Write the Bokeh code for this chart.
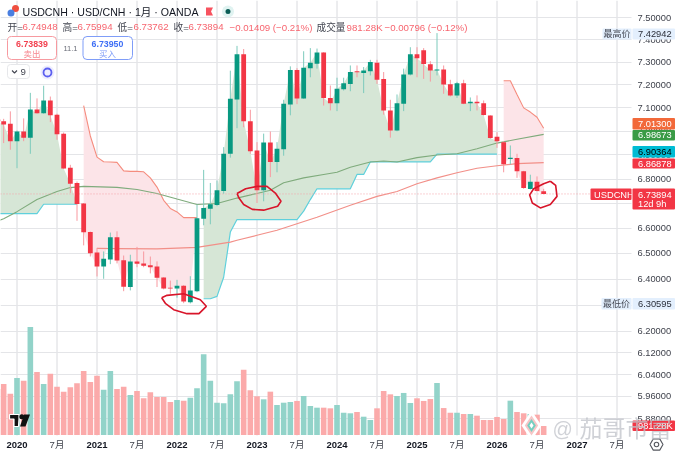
import math
from bokeh.plotting import figure
from bokeh.models import FixedTicker, LinearAxis, Range1d, LinearScale, PrintfTickFormatter, ColumnDataSource
from bokeh.core.properties import value
from bokeh.embed import file_html
from bokeh.resources import INLINE

# month index: 0 = 2020-01, first candle 2019-10 (just off the left edge)
first_month = -3
open_ = [7.050,7.043,7.032,6.958,6.999,6.973,7.093,7.077,7.132,7.071,6.990,6.847,6.784,6.700,6.585,
         6.504,6.449,6.476,6.564,6.473,6.369,6.468,6.461,6.454,6.449,6.406,6.366,
         6.363,6.374,6.311,6.353,6.638,6.679,6.694,6.751,6.905,7.136,7.335,7.043,
         6.919,6.754,6.953,6.871,6.924,7.115,7.265,7.141,7.273,7.293,7.342,7.143,
         7.120,7.181,7.204,7.259,7.252,7.259,7.297,7.225,7.089,7.003,7.118,7.245,
         7.335,7.353,7.290,7.263,7.267,7.203,7.154,7.207,7.120,7.126,7.120,7.067,
         6.977,6.954,6.883,6.887,6.832,6.759,6.789,6.74948]
high_ = [7.080,7.053,7.085,7.003,7.055,7.165,7.141,7.196,7.149,7.075,6.995,6.859,6.790,6.702,6.587,
         6.522,6.508,6.583,6.588,6.492,6.495,6.526,6.508,6.488,6.469,6.407,6.394,
         6.397,6.376,6.411,6.696,6.838,6.784,6.794,6.933,7.262,7.372,7.358,7.092,
         6.954,6.990,6.999,6.954,7.135,7.281,7.273,7.348,7.362,7.360,7.344,7.197,
         7.231,7.231,7.285,7.285,7.278,7.310,7.310,7.256,7.135,7.158,7.271,7.366,
         7.366,7.362,7.304,7.42942,7.285,7.222,7.213,7.222,7.145,7.154,7.132,7.068,
         6.996,6.958,6.940,6.905,6.834,6.818,6.811,6.75994]
low_ = [7.000,6.950,6.922,6.845,6.958,6.905,7.075,7.075,7.039,6.964,6.842,6.743,6.630,6.532,6.488,
        6.410,6.401,6.458,6.461,6.353,6.356,6.446,6.446,6.422,6.369,6.360,6.343,
        6.328,6.307,6.30595,6.349,6.612,6.616,6.689,6.740,6.889,7.013,7.017,6.905,
        6.702,6.709,6.808,6.828,6.897,7.068,7.116,7.139,7.233,7.271,7.110,7.089,
        7.086,7.175,7.172,7.233,7.164,7.241,7.204,7.071,6.973,7.000,7.086,7.241,
        7.233,7.226,7.214,7.241,7.161,7.149,7.143,7.116,7.086,7.089,7.067,6.968,
        6.930,6.828,6.861,6.805,6.760,6.757,6.749,6.73762]
close_ = [7.043,7.029,6.958,6.999,6.973,7.093,7.077,7.132,7.068,6.987,6.844,6.781,6.698,6.584,6.501,
          6.449,6.479,6.564,6.472,6.370,6.468,6.460,6.452,6.446,6.405,6.363,6.363,
          6.374,6.313,6.356,6.640,6.682,6.697,6.754,6.905,7.139,7.335,7.043,6.916,
          6.754,6.953,6.871,6.926,7.118,7.265,7.141,7.275,7.297,7.342,7.143,7.120,
          7.183,7.207,7.256,7.255,7.263,7.300,7.222,7.089,7.003,7.120,7.245,7.335,
          7.317,7.291,7.263,7.267,7.201,7.154,7.207,7.118,7.126,7.120,7.069,6.971,
          6.958,6.861,6.889,6.832,6.763,6.789,6.751,6.73894]
volume_m = [5.00,5.54,4.49,6.20,5.90,11.74,6.85,5.54,6.66,5.25,4.71,5.18,5.62,6.96,5.76,
            6.45,4.92,6.96,5.00,5.25,4.35,4.78,3.99,4.64,4.13,4.13,3.59,
            3.80,3.73,4.05,5.08,8.77,5.90,3.51,3.45,4.42,5.84,7.10,4.86,
            4.21,3.88,4.71,3.26,3.51,3.59,3.70,4.24,3.15,2.97,2.97,2.90,
            3.26,2.42,2.36,2.50,1.99,1.63,2.90,4.78,4.42,4.24,4.57,3.48,
            3.99,3.70,3.91,5.65,2.93,2.42,2.42,2.28,2.28,2.10,1.63,1.63,
            1.96,1.74,3.73,2.50,2.36,2.28,2.21,0.981]
# supertrend-like stop lines, by start month
upper1_start = 10
upper1 = [7.110,6.980,6.891,6.872,6.871,6.869,6.834,6.832,6.832,6.830,6.805,6.767,6.713,6.680,6.666,6.643,6.643,6.643]
upper2_start = 73
upper2 = [7.218,7.218,7.158,7.100,7.082,7.060,7.013]
lower1_start = -3
lower1 = [6.659,6.659,6.659,6.659,6.659,6.659,6.659,6.697,6.697,6.697,6.697,6.697,6.697]
lower2_start = 28
lower2 = [6.324,6.324,6.333,6.407,6.585,6.635,6.635,6.635,6.635,6.635,6.635,6.635,6.635,6.635,6.635,
          6.669,6.716,6.760,6.760,6.760,6.760,6.760,6.760,6.819,6.819,6.871,6.871,6.871,6.871,6.871,
          6.871,6.871,6.871,6.871,6.871,6.904,6.904,6.904,6.904,6.904,6.904,6.904,6.904,6.904,6.904]
ma_green_x = [-3,-2,0,3,6,8,10,15,18,21,24,27,30,33,36,38,40,43,46,48,50,53,55,57,60,63,66,69,72,75,79]
ma_green = [6.628,6.638,6.667,6.716,6.749,6.765,6.770,6.766,6.757,6.741,6.718,6.696,6.700,6.722,6.741,6.754,6.785,6.805,6.819,6.828,6.849,6.871,6.875,6.871,6.889,6.900,6.905,6.926,6.950,6.966,6.987]
ma_red_x = [12,15,21,27,32,33,36,39,45,50,54,57,60,63,66,69,72,75,79]
ma_red = [6.520,6.519,6.518,6.524,6.545,6.552,6.572,6.592,6.644,6.693,6.729,6.749,6.781,6.805,6.826,6.845,6.855,6.864,6.868]
# hand-drawn red circles
mark1_x = [21.7,22.5,25.0,27.5,28.4,27.3,25.5,23.5,22.3,21.7]
mark1_y = [6.328,6.337,6.343,6.320,6.295,6.267,6.267,6.282,6.305,6.328]
mark2_x = [33.0,34.3,36.0,37.5,38.8,39.6,39.1,37.0,35.3,34.0,33.3,33.0]
mark2_y = [6.741,6.760,6.770,6.770,6.741,6.709,6.689,6.673,6.676,6.696,6.722,6.741]
mark3_x = [80.0,80.8,81.0,80.0,78.5,77.3,76.9,77.5,79.0,80.0]
mark3_y = [6.791,6.774,6.729,6.696,6.682,6.702,6.735,6.760,6.781,6.791]
year_ticks = [0,12,24,36,48,60,72,84]
year_labels = ["2020","2021","2022","2023","2024","2025","2026","2027"]
month_ticks = [6,18,30,42,54,66,78,90]
price_ticks = [7.5,7.4,7.3,7.2,7.1,7.0,6.9,6.8,6.7,6.6,6.5,6.4,6.3,6.2,6.12,6.04,5.96,5.88]

W, H = 680, 454
def X(px): return (px-16.5)/6.6667
def Y(py): return 7.5*math.exp(-(py-17)/1649.0)
FONT = "'Liberation Sans', 'Noto Sans CJK SC'"

p = figure(width=W, height=H, output_backend="svg", toolbar_location=None,
           x_range=Range1d(X(0), X(W)), y_range=Range1d(Y(H), Y(0)), y_axis_type="log",
           y_axis_location="right", min_border=0, min_border_left=0, min_border_right=0,
           min_border_top=0, min_border_bottom=0, background_fill_color="white", outline_line_color=None)
p.styles = {"position": "fixed", "left": "0px", "top": "0px"}
p.extra_y_ranges = {"vol": Range1d(-19.5/9.2, 434.5/9.2)}
p.extra_y_scales = {"vol": LinearScale()}

# axes
ya = p.yaxis[0]
ya.ticker = FixedTicker(ticks=price_ticks)
ya.formatter = PrintfTickFormatter(format="%.5f")
ya.fixed_location = X(631)
ya.axis_line_color = None
ya.major_tick_line_color = None
ya.minor_tick_line_color = None
ya.major_tick_out = 0
ya.major_tick_in = 0
ya.major_label_standoff = 6
ya.major_label_text_font = FONT
ya.major_label_text_font_size = "9.3px"
ya.major_label_text_color = "#3f424c"

xa = p.xaxis[0]
xa.ticker = FixedTicker(ticks=year_ticks)
xa.major_label_overrides = dict(zip(year_ticks, year_labels))
xa.fixed_location = Y(435)
xa.axis_line_color = None
xa.major_tick_line_color = None
xa.minor_tick_line_color = None
xa.major_tick_out = 0
xa.major_tick_in = 0
xa.major_label_standoff = 6
xa.major_label_text_font = FONT
xa.major_label_text_font_style = "bold"
xa.major_label_text_font_size = "9.5px"
xa.major_label_text_color = "#131722"

xb = LinearAxis(ticker=FixedTicker(ticks=month_ticks), fixed_location=Y(435),
                major_label_overrides={m: "7月" for m in month_ticks},
                axis_line_color=None, major_tick_line_color=None, minor_tick_line_color=None,
                major_tick_out=0, major_tick_in=0,
                major_label_standoff=3, major_label_text_font=FONT, major_label_text_font_size="9.5px",
                major_label_text_color="#3f424c")
p.add_layout(xb, "below")

# grid: vertical lines stop at the time scale, horizontal ones at the price scale
xg = p.xgrid[0]
xg.grid_line_color = None
yg = p.ygrid[0]
yg.ticker = FixedTicker(ticks=price_ticks)
yg.grid_line_color = "#e4e5e8"
yg.grid_line_width = 1
yg.cross_bounds = (X(0), X(631))
vticks = sorted(year_ticks + month_ticks)
p.segment(x0=vticks, x1=vticks, y0=[Y(435)]*len(vticks), y1=[Y(0)]*len(vticks),
          line_color="#d9dade", line_width=1, level="underlay")

months = list(range(first_month, first_month+len(close_)))
def idx(m): return m-first_month

# areas
p.varea(x=list(range(lower1_start, lower1_start+len(lower1))), y1=lower1,
        y2=close_[idx(lower1_start):idx(lower1_start)+len(lower1)], fill_color="#d6e6d6", fill_alpha=1)
p.varea(x=list(range(lower2_start, lower2_start+len(lower2))), y1=lower2,
        y2=close_[idx(lower2_start):idx(lower2_start)+len(lower2)], fill_color="#d6e6d6", fill_alpha=1)
p.varea(x=list(range(upper1_start, upper1_start+len(upper1))), y1=upper1,
        y2=close_[idx(upper1_start):idx(upper1_start)+len(upper1)], fill_color="#fce4e8", fill_alpha=1)
p.varea(x=list(range(upper2_start, upper2_start+len(upper2))), y1=upper2,
        y2=close_[idx(upper2_start):idx(upper2_start)+len(upper2)], fill_color="#fce4e8", fill_alpha=1)

# volume
vol_col = ["#92d3c9" if c >= o else "#fbaaaa" for o, c in zip(open_, close_)]
p.vbar(x=months, top=volume_m, bottom=0, width=0.84, fill_color=vol_col, line_color=None, y_range_name="vol")

# lines
p.line(list(range(upper1_start, upper1_start+len(upper1))), upper1, line_color="#f58c7e", line_width=1.1)
p.line(list(range(upper2_start, upper2_start+len(upper2))), upper2, line_color="#f58c7e", line_width=1.1)
p.line(list(range(lower1_start, lower1_start+len(lower1))), lower1, line_color="#5fd0dc", line_width=1.2)
p.line(list(range(lower2_start, lower2_start+len(lower2))), lower2, line_color="#5fd0dc", line_width=1.2)
p.line(ma_green_x, ma_green, line_color="#7fab7c", line_width=1.1)
p.line(ma_red_x, ma_red, line_color="#f28f88", line_width=1.1)

# last price line
p.segment(x0=[X(0)], x1=[X(631)], y0=[close_[-1]], y1=[close_[-1]], line_color="#f5a3a8", line_width=1, line_dash="1 2")

# candles
up = [c >= o for o, c in zip(open_, close_)]
src = ColumnDataSource(dict(
    x=months, high=high_, low=low_,
    top=[max(o, c) for o, c in zip(open_, close_)], bottom=[min(o, c) for o, c in zip(open_, close_)],
    body=["#089981" if u else "#f23645" for u in up],
    wick=["#7ccabc" if u else "#f8989f" for u in up]))
p.segment(x0="x", x1="x", y0="high", y1="low", line_color="wick", line_width=1, source=src)
p.vbar(x="x", top="top", bottom="bottom", width=0.72, fill_color="body", line_color=None, source=src)

# hand-drawn circles
for mx, my in ((mark1_x, mark1_y), (mark2_x, mark2_y), (mark3_x, mark3_y)):
    p.line(mx, my, line_color="#d8152a", line_width=1.6)

# ---------- chrome helpers ----------
def T(px, py, s, color="#131722", size="9.7px", align="left", style="normal", alpha=1.0):
    p.text(x=[X(px)], y=[Y(py)], text=[s], text_color=color, text_font_size=size, text_align=align,
           text_baseline="middle", text_font=value(FONT), text_font_style=style, text_alpha=alpha, level="overlay")
def BOX(x0, x1, y0, y1, fill, line=None, r=0, lw=1):
    p.quad(left=[X(x0)], right=[X(x1)], top=[Y(y0)], bottom=[Y(y1)], fill_color=fill, line_color=line,
           line_width=lw, border_radius=r, level="overlay")
def DOT(px, py, size, fill, line=None, marker="circle", lw=1):
    p.scatter(x=[X(px)], y=[Y(py)], size=size, marker=marker, fill_color=fill, line_color=line, line_width=lw, level="overlay")

# header
DOT(15, 8, 7, "#ef4f3f"); DOT(10.5, 12.5, 7, "#4a7fe0")
T(22, 11, "USDCNH · USD/CNH · 1月 · OANDA", size="10.6px")
p.patch(x=[X(205.5), X(212.5), X(210.5), X(212.5), X(205.5)], y=[Y(7), Y(7), Y(11), Y(15), Y(15)], fill_color="#f7525f", line_color=None, level="overlay")
DOT(227.5, 11, 12, "#e0f3f1"); DOT(227.5, 11, 5, "#0b5d56")
RED = "#f7656f"
for xl, lab, xv, val in ((7, "开=", 22, "6.74948"), (62, "高=", 77, "6.75994"), (117, "低=", 133, "6.73762"), (173, "收=", 188, "6.73894")):
    T(xl, 26.5, lab, color="#434651", size="9.7px")
    T(xv, 26.5, val, color=RED, size="9.7px")
T(229, 26.5, "−0.01409 (−0.21%)", color=RED, size="9.7px")
T(316, 26.5, "成交量", color="#434651", size="9.7px")
T(346, 26.5, "981.28K", color=RED, size="9.7px")
T(384, 26.5, "−0.00796 (−0.12%)", color=RED, size="9.7px")

BOX(7, 56, 36, 59, "white", "#f79aa0", 4)
T(31.5, 43, "6.73839", color="#f2414f", size="8.8px", align="center", style="bold")
T(31.5, 53, "卖出", color="#f7868e", size="8.5px", align="center")
T(70, 48, "11.1", color="#6a6d78", size="7.5px", align="center")
BOX(82.5, 132, 36, 59, "white", "#7f9df8", 4)
T(107, 43, "6.73950", color="#3f6ff5", size="8.8px", align="center", style="bold")
T(107, 53, "买入", color="#7f9df8", size="8.5px", align="center")
BOX(7, 29, 64, 78, "white", "#e6e7ea", 3)
p.line([X(11.5), X(14), X(16.5)], [Y(70), Y(72.5), Y(70)], line_color="#434651", line_width=1.1, level="overlay")
T(20, 71.5, "9", color="#434651", size="9.7px")
DOT(47, 72, 14, "#eeeefe"); DOT(47, 72, 8, None, "#5c5ff0", lw=1.8)

# right scale boxes
LX0, LX1 = 632, 674.5
AX = "9.3px"
BOX(602, 631, 28, 39, "#e3effd", None, 1); T(616.5, 33.5, "最高价", color="#434651", size="9px", align="center")
BOX(LX0, LX1, 28, 39, "#e3effd", None, 1); T(637.5, 33.5, "7.42942", color="#2a2e39", size=AX)
BOX(LX0, LX1, 117.5, 129, "#f2693a", None, 1); T(637.5, 123.5, "7.01300", color="#ffffff", size=AX)
BOX(LX0, LX1, 129.5, 140, "#3a9b46", None, 1); T(637.5, 134.8, "6.98673", color="#ffffff", size=AX)
BOX(LX0, LX1, 145.5, 157, "#00bcd4", None, 1); T(637.5, 151, "6.90364", color="#000000", size=AX)
BOX(LX0, LX1, 158, 168, "#f23645", None, 1); T(637.5, 163, "6.86878", color="#ffffff", size=AX)
BOX(590, 631, 188, 199.5, "#f23645", None, 1); T(593.5, 194, "USDCNH", color="#ffffff", size=AX)
BOX(LX0, LX1, 188, 209, "#f23645", None, 1); T(637.5, 194, "6.73894", color="#ffffff", size=AX); T(637.5, 203.5, "12d 9h", color="#ffffff", size=AX)
BOX(601, 631, 297.5, 309, "#e3effd", None, 1); T(616, 303.5, "最低价", color="#434651", size="9px", align="center")
BOX(LX0, LX1, 297.5, 309, "#e3effd", None, 1); T(637.5, 303.5, "6.30595", color="#2a2e39", size=AX)
BOX(LX0, LX1, 420, 430.5, "#f23645", None, 1); T(637.5, 425.5, "981.28K", color="#ffffff", size=AX)

# TradingView logo
p.patch(x=[X(9), X(18.5), X(18.5), X(18), X(13.5), X(13.5), X(9)], y=[Y(414), Y(414), Y(418.5), Y(426), Y(426), Y(418.5), Y(418.5)],
        fill_color="#111111", line_color="white", line_width=1.2, level="overlay")
DOT(21.3, 416.3, 5, "#111111")
p.patch(x=[X(23.5), X(29.5), X(25), X(19.5)], y=[Y(414), Y(414), Y(426), Y(426)], fill_color="#111111", line_color=None, level="overlay")

# gear
DOT(656, 444, 13, None, "#55585f", marker="hex", lw=1.1)
DOT(656, 444, 4.5, None, "#55585f", lw=1.1)

# watermark
DOT(531, 425, 30, "white", None, marker="diamond")
DOT(531, 425, 20, "#f6c6c6", None, marker="diamond")
DOT(531, 425, 13, "#74cfc0", None, marker="diamond")
DOT(531, 425, 6, "white", None, marker="diamond")
T(552, 428, "@", color="#c4c7cd", size="20px", alpha=0.8)
T(579, 428, "茄哥市富", color="#bfc2c8", size="23px", alpha=0.75)

open("out.html", "w").write(file_html(p, INLINE))
